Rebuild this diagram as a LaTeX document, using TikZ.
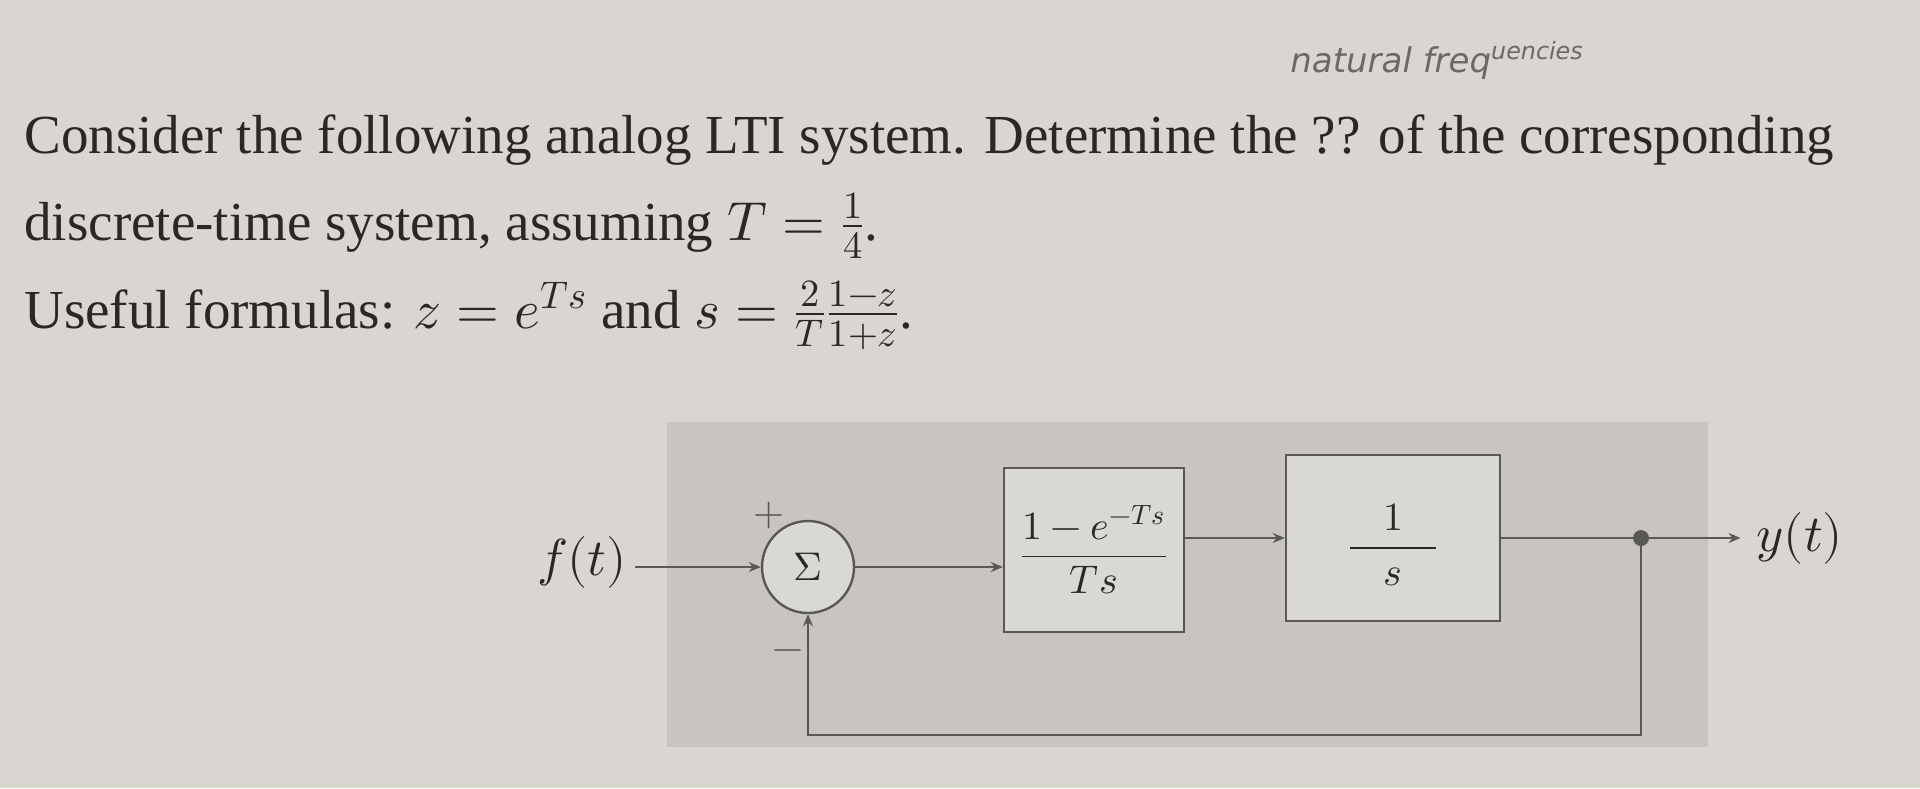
\documentclass[tikz,border=0pt]{standalone}
\usepackage{fontspec}
\setmainfont{Liberation Serif}
\newfontfamily\hand{DejaVu Sans}
\usepackage{unicode-math}
\setmathfont{Latin Modern Math}
\usetikzlibrary{arrows.meta}
\definecolor{paper}{HTML}{D9D5D0}
\definecolor{panel}{HTML}{C8C5C1}
\definecolor{boxfill}{HTML}{DAD8D4}
\definecolor{ink}{HTML}{2A2826}
\definecolor{wire}{HTML}{5A5855}
\begin{document}
\begin{tikzpicture}[x=0.5pt,y=-0.5pt,
  txt/.style={anchor=base west,inner sep=0pt,text=ink,font=\fontsize{27.5}{30}\selectfont},
  blk/.style={draw=wire,line width=1.2pt,fill=boxfill},
  wirel/.style={draw=wire,line width=1.2pt,-{Stealth[length=6pt,width=5pt]}},
  sig/.style={font=\fontsize{20}{22}\selectfont,text=ink,inner sep=0pt}]
\useasboundingbox[fill=paper] (0,0) rectangle (1920,788);
\node[txt,text=ink!70,font=\hand\fontsize{17}{18}\selectfont\itshape] (hw) at (1290,72) {natural freq\textsuperscript{uencies}};
\node[txt] (l1) at (24,153) {Consider the following analog LTI system. Determine the ?? of the corresponding};
\node[txt] (l2) at (24,240) {discrete-time system, assuming $T=\frac{1}{4}$.};
\node[txt] (l3) at (24,328) {Useful formulas: $z=e^{Ts}$ and $s=\frac{2}{T}\frac{1-z}{1+z}$.};
\fill[panel] (667,422) rectangle (1708,747);
\node[blk,circle,minimum size=46pt,inner sep=0pt,fill=boxfill] (sum) at (808,567) {};
\node[sig] at (sum) {$\Sigma$};
\node[blk,minimum width=90pt,minimum height=82pt,inner sep=0pt] (b1) at (1094,550) {};
\node[sig] at (1094,550) {$\dfrac{1-e^{-Ts}}{\;\;Ts\;\;}$};
\node[blk,minimum width=107pt,minimum height=83pt,inner sep=0pt] (b2) at (1393,538) {};
\node[sig] at (1393,545) {$\dfrac{\;\;\;1\;\;\;}{s}$};
\node[sig,font=\fontsize{26}{28}\selectfont] (f) at (582,562) {$f(t)$};
\node[sig,font=\fontsize{26}{28}\selectfont] (y) at (1800,538) {$y(t)$};
\node[sig,text=wire] (plus) at (769,515) {$+$};
\node[sig,text=wire] (minus) at (788,655) {$-$};
\coordinate (dot) at (1641,554);
\coordinate (fb) at (1641,735);
\coordinate (fb2) at (sum.south |- fb);
\draw[wirel] ([xshift=4pt]f.east |- sum.west) -- (sum.west);
\draw[wirel] (sum.east) -- (b1.west |- sum.east);
\draw[wirel] (b1.east |- b2.west) -- (b2.west);
\draw[wirel] (b2.east) -- ([xshift=-8pt]y.west |- b2.east);
\fill[wire] (b2.east -| dot) circle (4pt);
\draw[wirel] (b2.east -| dot) -- (fb) -- (fb2) -- (sum.south);
\end{tikzpicture}
\end{document}
